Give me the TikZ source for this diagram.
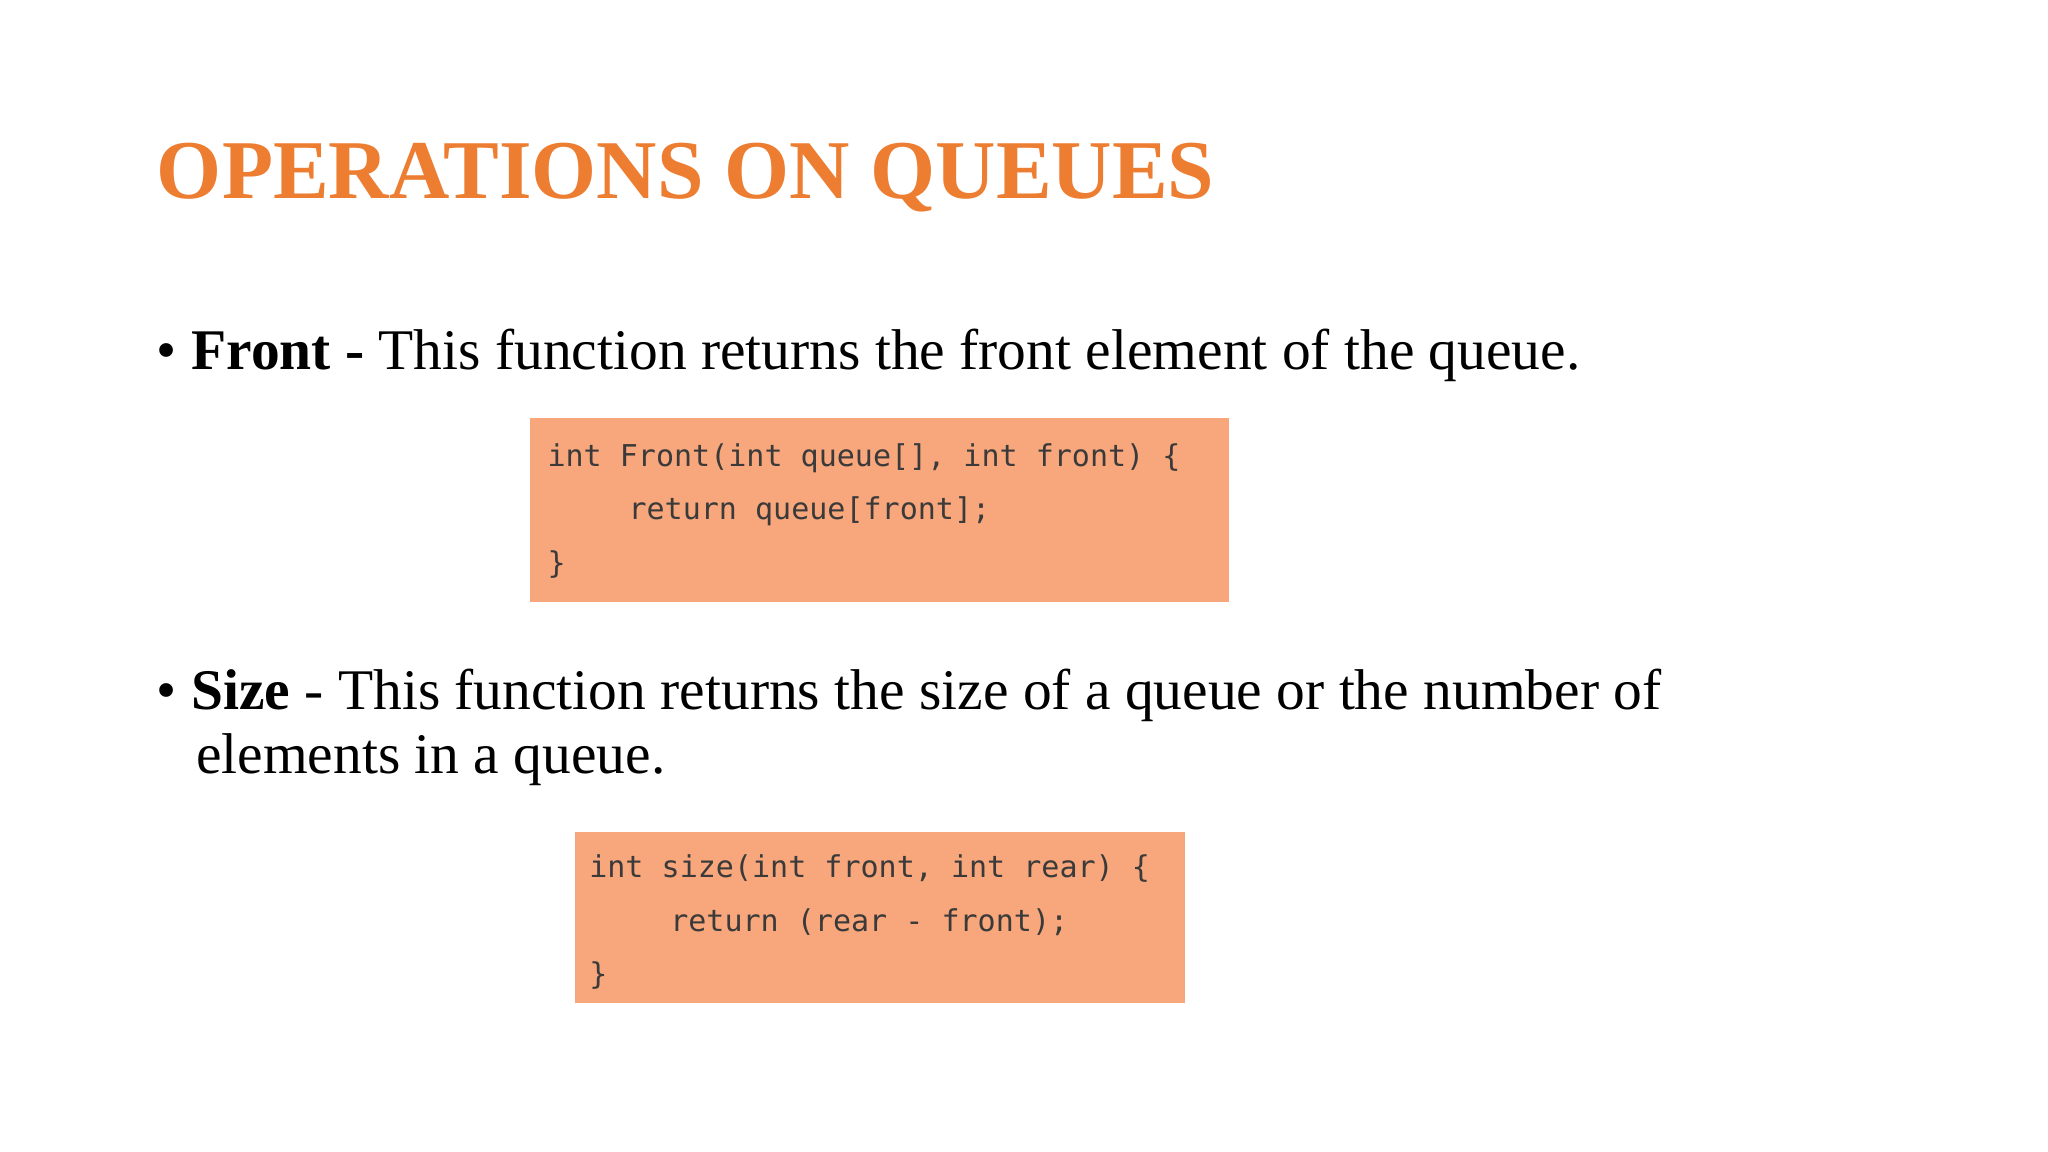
\documentclass[tikz,border=0pt]{standalone}
\usepackage{fontspec}
\setmainfont{Liberation Serif}
\newfontfamily\codefont{DejaVu Sans Mono}
\definecolor{ttl}{HTML}{ED7D31}
\definecolor{codebg}{HTML}{F7A77B}
\definecolor{codefg}{HTML}{3A3A3A}
\begin{document}
\begin{tikzpicture}[x=1pt,y=-1pt,
  txt/.style={anchor=base west,inner sep=0pt,font=\fontsize{44}{50}\selectfont},
  code/.style={anchor=base west,inner sep=0pt,text=codefg,font=\codefont\fontsize{23}{28}\selectfont},
  codebox/.style={fill=codebg,draw=none}]
\useasboundingbox[fill=white] (0,0) rectangle (1568,882);
\node[anchor=base west,inner sep=0pt,text=ttl,font=\bfseries\fontsize{64}{70}\selectfont] (title) at (120,152) {OPERATIONS ON QUEUES};
\node[txt] (b1) at (120,283) {\textbullet\ \textbf{Front -} This function returns the front element of the queue.};
\fill[codebox] (406,320) rectangle (941,461);
\node[code] (c1) at (419,357) {int Front(int queue[], int front) \{};
\node[code] (c2) at (481,398) {return queue[front];};
\node[code] (c3) at (419,439) {\}};
\node[txt] (b2) at (120,543) {\textbullet\ \textbf{Size} - This function returns the size of a queue or the number of};
\node[txt] (b2b) at (150,592) {elements in a queue.};
\fill[codebox] (440,637) rectangle (907,768);
\node[code] (d1) at (451,672) {int size(int front, int rear) \{};
\node[code] (d2) at (513,713) {return (rear - front);};
\node[code] (d3) at (451,754) {\}};
\end{tikzpicture}
\end{document}
